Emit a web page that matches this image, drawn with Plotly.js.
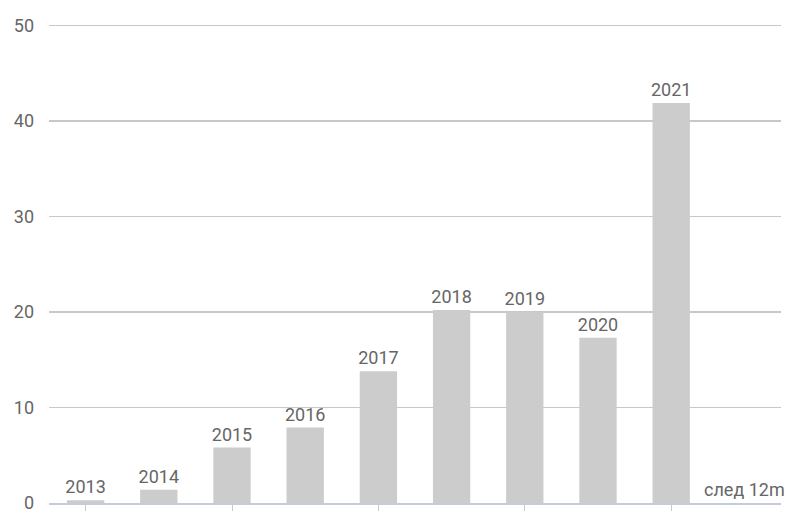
<!DOCTYPE html>
<html>
<head>
<meta charset="utf-8">
<script src="https://cdn.plot.ly/plotly-3.0.1.min.js"></script>
<style>html,body{margin:0;padding:0;background:#fff;}#chart{width:800px;height:524px;}</style>
</head>
<body>
<div id="chart"></div>
<script>
var categories = ['2013','2014','2015','2016','2017','2018','2019','2020','2021','след 12m'];
var values = [0.3, 1.4, 5.8, 7.9, 13.8, 20.2, 20.0, 17.3, 41.9, 0];
var yTicks = [0, 10, 20, 30, 40, 50];
var xTickCats = ['2013','2015','2017','2019','2021'];

var trace = {
  type: 'bar',
  x: categories,
  y: values,
  text: categories,
  texttemplate: '%{text}',
  textposition: 'outside',
  constraintext: 'none',
  cliponaxis: false,
  textfont: {family: 'Roboto, sans-serif', size: 18, color: '#666666'},
  marker: {color: '#cccccc'},
  hoverinfo: 'none'
};

var layout = {
  width: 800, height: 524,
  margin: {l: 49, r: 19, t: 16, b: 21},
  paper_bgcolor: '#ffffff', plot_bgcolor: '#ffffff',
  showlegend: false,
  bargap: 0.49,
  font: {family: 'Roboto, sans-serif', size: 18, color: '#666666'},
  xaxis: {
    type: 'category',
    showticklabels: false,
    tickmode: 'array',
    tickvals: xTickCats,
    ticks: 'outside', ticklen: 6, tickwidth: 1, tickcolor: '#c5ccd6',
    showgrid: false,
    showline: true, linecolor: '#c5ccd6', linewidth: 2,
    zeroline: false
  },
  yaxis: {
    range: [0, 51],
    tickmode: 'array',
    tickvals: yTicks,
    ticks: '', ticklabelstandoff: 14,
    showgrid: true, gridcolor: '#c8c8c8', gridwidth: 1.5,
    zeroline: false, showline: false,
    tickfont: {family: 'Roboto, sans-serif', size: 18, color: '#666666'}
  }
};

Plotly.newPlot('chart', [trace], layout, {displayModeBar: false, staticPlot: true});
</script>
</body>
</html>
